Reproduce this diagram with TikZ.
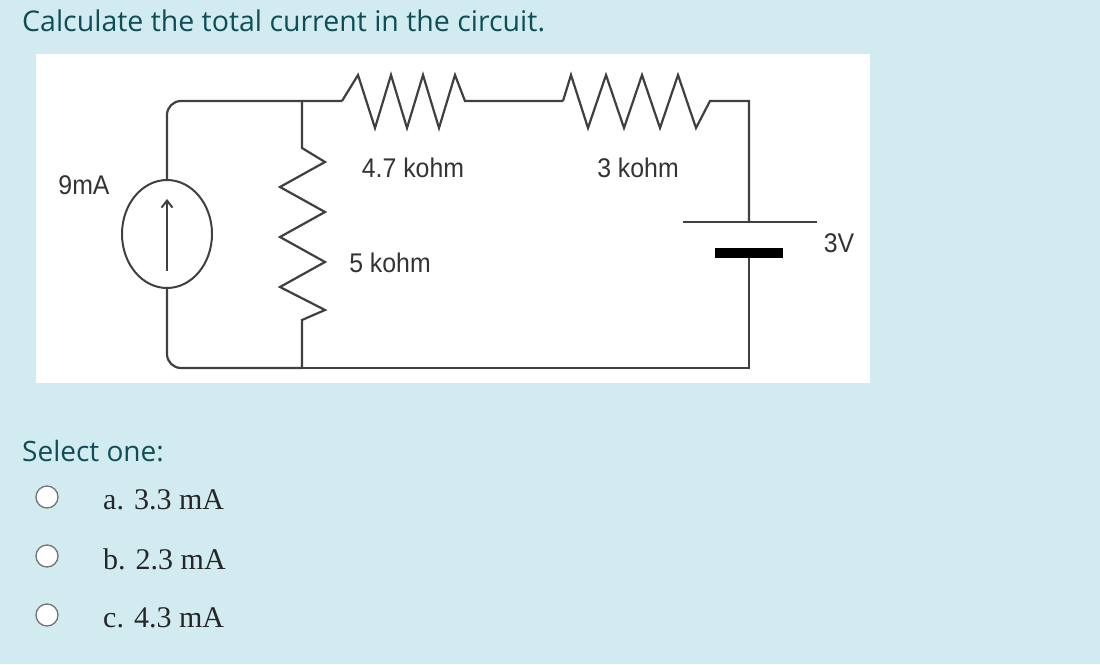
\documentclass[tikz,border=0pt]{standalone}
\usepackage{fontspec}
\usetikzlibrary{shapes.geometric,arrows.meta}
\setmainfont{Liberation Sans}
\newfontfamily\titlef{Open Sans}
\newfontfamily\optf{Liberation Serif}
\begin{document}
\begin{tikzpicture}[x=1pt,y=-1pt,
  wire/.style={line width=2.2pt,color=black!75},
  lab/.style={font=\fontsize{27}{29}\selectfont,text=black!80,inner sep=0pt,xscale=0.92},
  opt/.style={font=\optf\fontsize{30}{32}\selectfont,text=black!85,anchor=west,inner sep=0pt},
  radio/.style={circle,draw=black!55,line width=1.3pt,fill=white,minimum size=22pt,inner sep=0pt}]
\definecolor{bg}{HTML}{D2EBF0}
\definecolor{ttl}{HTML}{0E4F57}
\fill[bg] (0,0) rectangle (1100,664);
\useasboundingbox (0,0) rectangle (1100,664);
\fill[white] (36,54) rectangle (870,383);
\node[anchor=west,inner sep=0pt,font=\titlef\fontsize{28.5}{32}\selectfont,text=ttl] (title) at (22,21) {Calculate the total current in the circuit.};
% nodes
\coordinate (tl) at (167,101);
\coordinate (bl) at (167,368);
\coordinate (j1) at (302,101);
\coordinate (j2) at (302,368);
\coordinate (br) at (749,368);
\coordinate (tr) at (749,101);
\node[draw=black!75,line width=2pt,ellipse,minimum width=90pt,minimum height=108pt,inner sep=0pt] (src) at (167,234) {};
% wires
\draw[wire,rounded corners=14pt] (src.north) -- (tl) -- (j1) -- (342,101);
\draw[wire,rounded corners=14pt] (src.south) -- (bl) -- (j2);
\draw[wire] (j2) -- (br) -- (749,253);
\draw[wire] (342,101) -- (358,75) -- (375,128) -- (391,75) -- (407,128) -- (423,75) -- (439,128) -- (455,75) -- (465,101) -- (563,101);
\draw[wire] (563,101) -- (571,75) -- (588,128) -- (606,75) -- (624,128) -- (642,75) -- (660,128) -- (678,75) -- (696,128) -- (710,101) -- (749,101) -- (749,222);
\draw[wire] (j1) -- (302,148) -- (325,162) -- (280,187) -- (325,212) -- (280,237) -- (325,262) -- (280,287) -- (325,310) -- (302,320) -- (j2);
\draw[wire] (683,222) -- (817,222);
\draw[line width=10pt,black] (715,253) -- (783,253);
\draw[wire,-{Straight Barb[length=7pt,width=11pt,line width=2pt]}] (167,271) -- (167,199);
% labels
\node[lab] (l9) at (84,185) {9mA};
\node[lab] (l47) at (413,168) {4.7 kohm};
\node[lab] (l3) at (638,168) {3 kohm};
\node[lab] (l5) at (390,263) {5 kohm};
\node[lab] (l3v) at (839,243) {3V};
% options
\node[anchor=west,inner sep=0pt,font=\titlef\fontsize{28}{32}\selectfont,text=ttl] (sel) at (22,451) {Select one:};
\node[radio] (r1) at (47,497) {};
\node[radio] (r2) at (47,556) {};
\node[radio] (r3) at (47,615) {};
\node[opt] (o1) at (103,500) {a. 3.3 mA};
\node[opt] (o2) at (103,559) {b. 2.3 mA};
\node[opt] (o3) at (103,618) {c. 4.3 mA};
\end{tikzpicture}
\end{document}
